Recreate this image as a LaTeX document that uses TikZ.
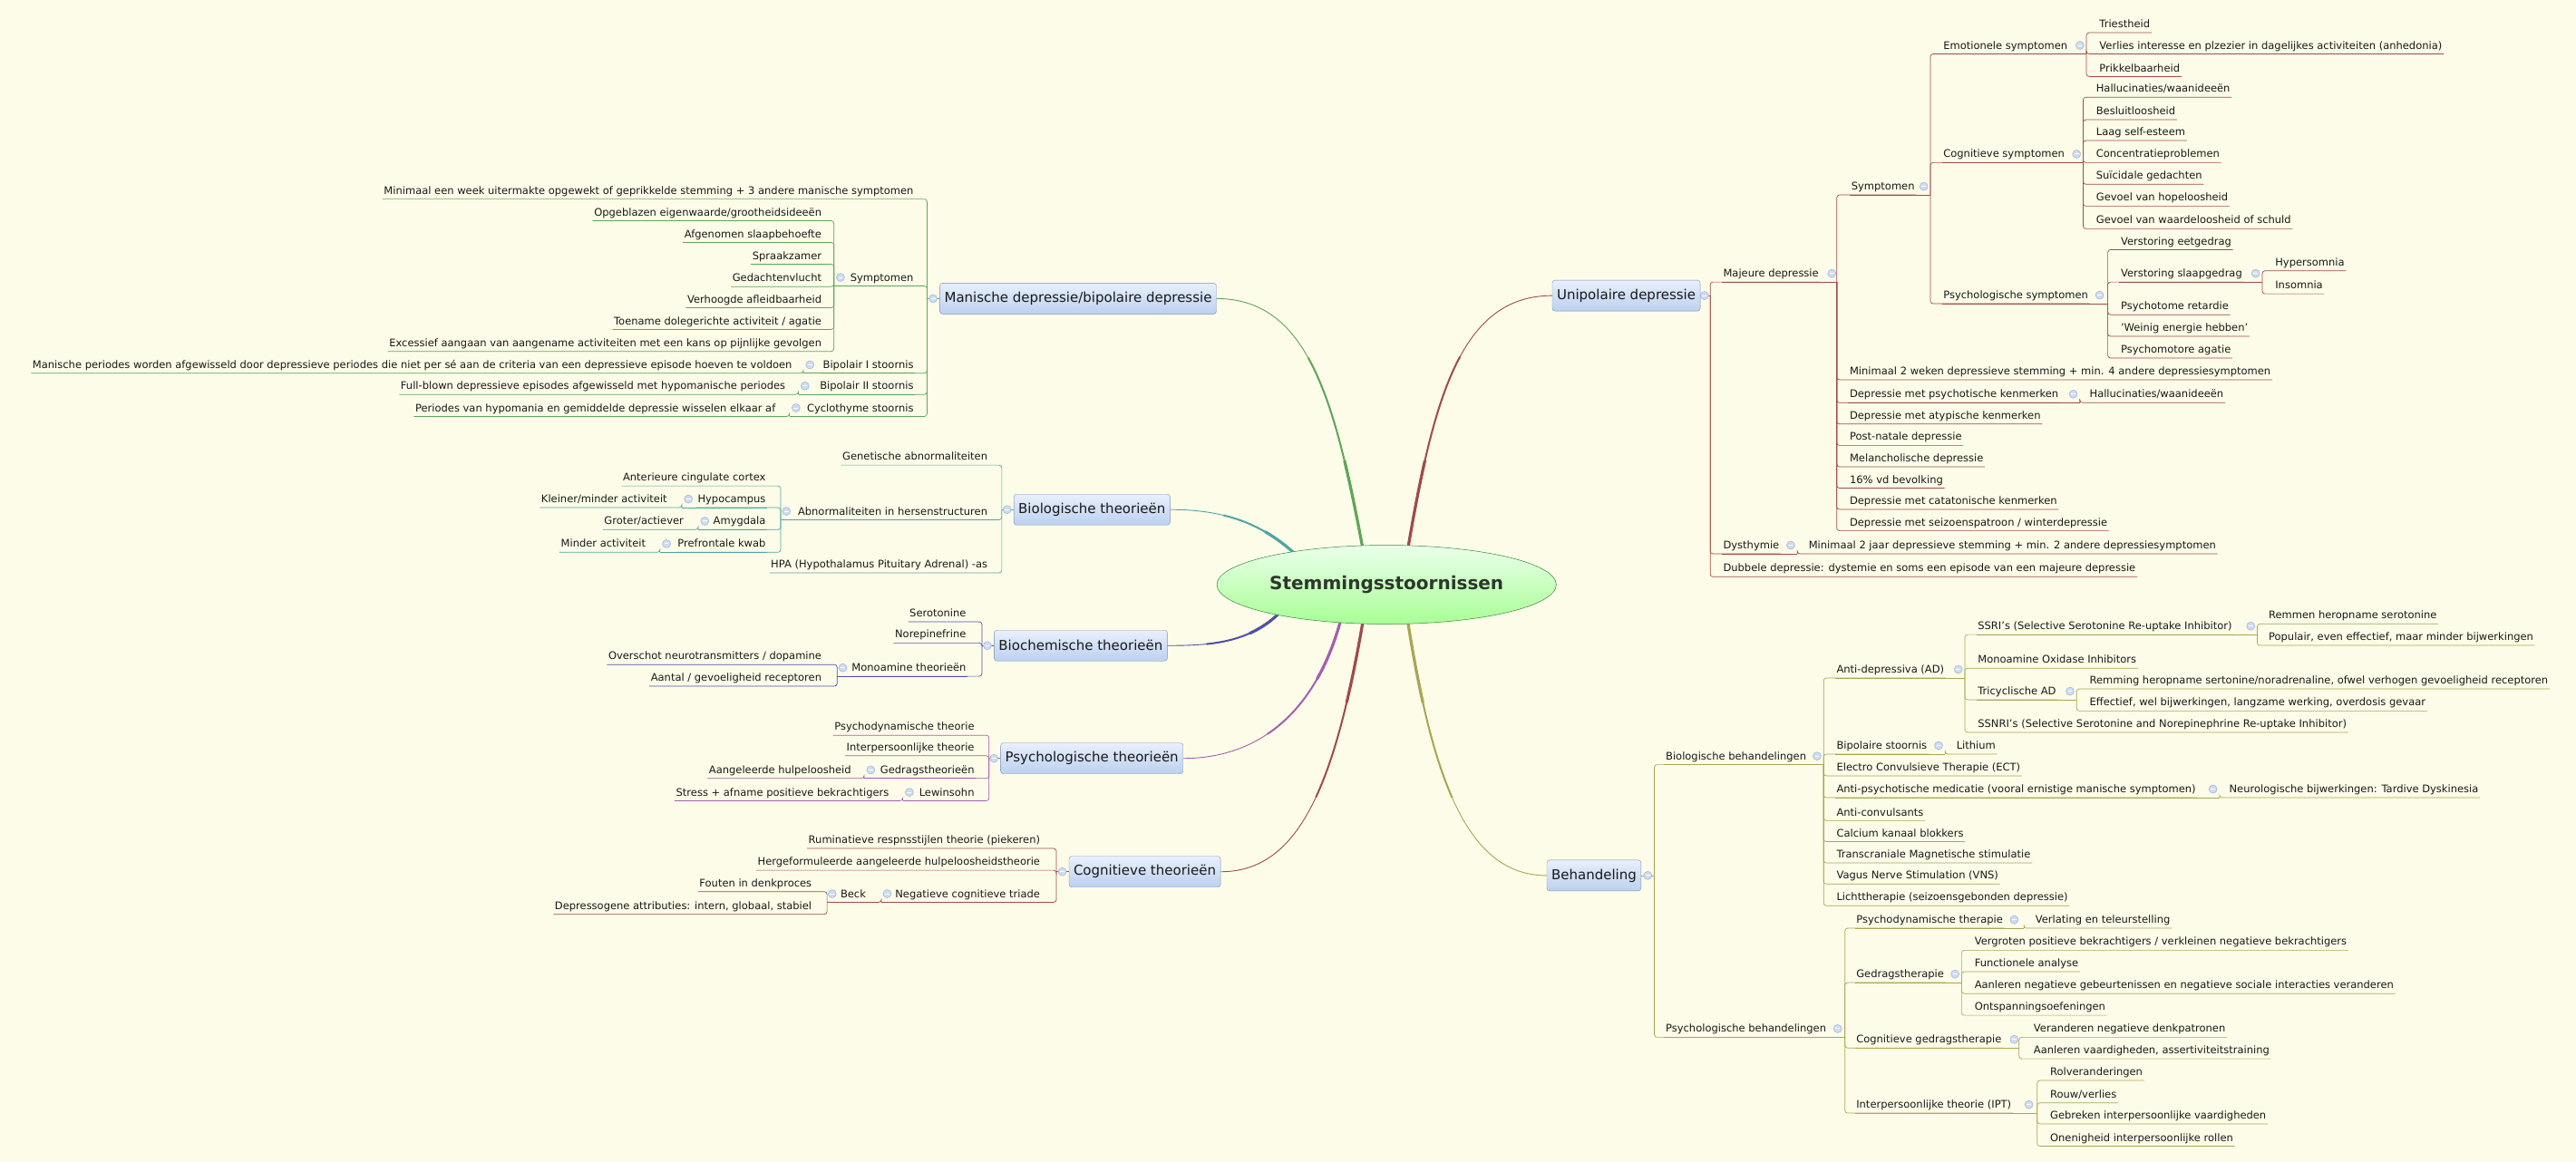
\documentclass[tikz,border=0pt]{standalone}
\usepackage{fontspec}
\setmainfont{DejaVu Sans}
\usetikzlibrary{calc,shapes.geometric}
\definecolor{bg}{RGB}{252,252,232}
\definecolor{txt}{RGB}{25,25,25}
\definecolor{cU}{RGB}{160,75,75}
\definecolor{cM}{RGB}{95,165,90}
\definecolor{cBi}{RGB}{80,165,160}
\definecolor{cBc}{RGB}{80,80,170}
\definecolor{cP}{RGB}{165,95,175}
\definecolor{cC}{RGB}{160,75,75}
\definecolor{cB}{RGB}{170,165,85}
\definecolor{bxt}{RGB}{232,240,252}
\definecolor{bxb}{RGB}{188,208,238}
\definecolor{bxd}{RGB}{125,145,185}
\definecolor{mkf}{RGB}{205,220,242}
\definecolor{mkd}{RGB}{160,180,215}
\newcount\mkc
\newcommand\nR[4]{\node[lf,anchor=south west] (#1) at (#2,{#3+5.2}) {#4};}
\newcommand\nL[4]{\node[lf,anchor=south east] (#1) at (#2,{#3+5.2}) {#4};}
\newcommand\mk[2]{\global\advance\mkc by 1 \node[mk] (mk\the\mkc) at (#1,#2) {};}
\newcommand\cR[4]{\coordinate (s#2) at (#3,0);
  \draw[#1,thin] (#2.south west) -- (s#2 |- #2.south);
  \foreach \c in {#4} {\draw[#1,thin,rounded corners=3pt] (s#2 |- #2.south) |- (\c.south east);}}
\newcommand\cL[4]{\coordinate (s#2) at (#3,0);
  \draw[#1,thin] (#2.south east) -- (s#2 |- #2.south);
  \foreach \c in {#4} {\draw[#1,thin,rounded corners=3pt] (s#2 |- #2.south) |- (\c.south west);}}
\newcommand\cRb[4]{\coordinate (s#2) at (#3,0);
  \draw[#1,thin] (#2.east) -- (s#2 |- #2.east);
  \foreach \c in {#4} {\draw[#1,thin,rounded corners=3pt] (s#2 |- #2.east) |- (\c.south east);}}
\newcommand\cLb[4]{\coordinate (s#2) at (#3,0);
  \draw[#1,thin] (#2.west) -- (s#2 |- #2.west);
  \foreach \c in {#4} {\draw[#1,thin,rounded corners=3pt] (s#2 |- #2.west) |- (\c.south west);}}
\newcommand\crv[5]{%
  \draw[#1,line width=0.9pt] (#2) .. controls #3 .. (#4);
  \draw[#1,line width=2pt,dash pattern=on #5 off 3000pt] (#2) .. controls #3 .. (#4);
  \draw[#1,line width=3.2pt,dash pattern=on {0.45*#5} off 3000pt] (#2) .. controls #3 .. (#4);}
\begin{document}
\begin{tikzpicture}[x=1.812pt,y=-1.812pt,
  lf/.style={font=\fontsize{11.5}{13}\selectfont,text=txt,inner xsep=1.5pt,inner ysep=5.2pt,text depth=0pt,text height=8.5pt},
  bx/.style={draw=bxd,rounded corners=3pt,top color=bxt,bottom color=bxb,font=\fontsize{15}{17}\selectfont,inner xsep=5pt,minimum height=34pt,text=txt},
  mk/.style={circle,inner sep=0pt,minimum size=9pt,fill=mkf,draw=mkd,line width=.5pt,
    path picture={\draw[white,line width=1pt] ([xshift=-2.4pt]path picture bounding box.center)--([xshift=2.4pt]path picture bounding box.center);}},
  thin/.style={line width=0.7pt}]
\fill[bg] (0,0) rectangle (1568,707.5);
\useasboundingbox (0,0) rectangle (1568,707.5);

% main boxes
\node[bx,anchor=east] (U) at (1035,180) {Unipolaire depressie};
\node[bx,anchor=east] (Beh) at (999,533.1) {Behandeling};
\node[bx,anchor=west] (M) at (572,181.8) {Manische depressie/bipolaire depressie};
\node[bx,anchor=west] (BiolT) at (617,310.3) {Biologische theorieën};
\node[bx,anchor=west] (BchT) at (605,393.1) {Biochemische theorieën};
\node[bx,anchor=west] (PsyT) at (609,461.8) {Psychologische theorieën};
\node[bx,anchor=west] (CogT) at (650.6,530.8) {Cognitieve theorieën};

% curves
\coordinate (e1) at (829.5,334);
\coordinate (e2) at (857,334);
\coordinate (e3) at (788,337);
\coordinate (e4) at (779,373);
\coordinate (e5) at (815.7,379);
\coordinate (e6) at (829.5,379);
\coordinate (e7) at (857,379);
\crv{cM}{e1}{(812,240) and (795,182)}{M.east}{220pt}
\crv{cU}{e2}{(873,240) and (890,180)}{U.west}{220pt}
\crv{cBi}{e3}{(765,316) and (740,310.3)}{BiolT.east}{90pt}
\crv{cBc}{e4}{(760,392) and (735,393.1)}{BchT.east}{90pt}
\crv{cP}{e5}{(800,435) and (765,461.8)}{PsyT.east}{150pt}
\crv{cC}{e6}{(812,480) and (790,530.8)}{CogT.east}{200pt}
\crv{cB}{e7}{(873,480) and (895,533.1)}{Beh.west}{200pt}

\node[ellipse,draw=black!45!green!60!gray,line width=0.5pt,top color=green!8!white,bottom color=green!35!white!90!lime,
  minimum width=348pt,minimum height=87pt,font=\fontsize{20}{24}\selectfont\bfseries,text={rgb,255:red,45;green,55;blue,45}] (root) at (844,356) {Stemmingsstoornissen};

% ---------- Unipolaire ----------
\nR{Maj}{1048}{166.5}{Majeure depressie}
\nR{Dys}{1048}{332}{Dysthymie}
\nR{Dub}{1048}{346}{Dubbele depressie: dystemie en soms een episode van een majeure depressie}
\nR{Sym}{1126}{113.5}{Symptomen}
\nR{Min2w}{1125}{226}{Minimaal 2 weken depressieve stemming + min. 4 andere depressiesymptomen}
\nR{Psyk}{1125}{240}{Depressie met psychotische kenmerken}
\nR{Atyp}{1125}{253}{Depressie met atypische kenmerken}
\nR{Post}{1125}{266}{Post-natale depressie}
\nR{Mel}{1125}{279}{Melancholische depressie}
\nR{Pct}{1125}{292}{16\% vd bevolking}
\nR{Cat}{1125}{305}{Depressie met catatonische kenmerken}
\nR{Seiz}{1125}{318}{Depressie met seizoenspatroon / winterdepressie}
\nR{Hal2}{1271}{240}{Hallucinaties/waanideeën}
\nR{Min2j}{1100}{332}{Minimaal 2 jaar depressieve stemming + min. 2 andere depressiesymptomen}
\nR{Emo}{1182}{27.6}{Emotionele symptomen}
\nR{CogS}{1182}{93.8}{Cognitieve symptomen}
\nR{PsyS}{1182}{179.7}{Psychologische symptomen}
\nR{Trie}{1277}{14.7}{Triestheid}
\nR{Verl}{1277}{27.6}{Verlies interesse en plzezier in dagelijkes activiteiten (anhedonia)}
\nR{Prik}{1277}{41.4}{Prikkelbaarheid}
\nR{Hal1}{1275}{54}{Hallucinaties/waanideeën}
\nR{Besl}{1275}{67.7}{Besluitloosheid}
\nR{Laag}{1275}{80.4}{Laag self-esteem}
\nR{Conc}{1275}{93.8}{Concentratieproblemen}
\nR{Suic}{1275}{107}{Suïcidale gedachten}
\nR{Hope}{1275}{120.3}{Gevoel van hopeloosheid}
\nR{Waar}{1275}{134.1}{Gevoel van waardeloosheid of schuld}
\nR{Eet}{1290}{146.8}{Verstoring eetgedrag}
\nR{Slaap}{1290}{166.5}{Verstoring slaapgedrag}
\nR{Ret}{1290}{186.4}{Psychotome retardie}
\nR{Ener}{1290}{199.6}{'Weinig energie hebben'}
\nR{Agat}{1290}{212.8}{Psychomotore agatie}
\nR{Hyp}{1384}{159.7}{Hypersomnia}
\nR{Ins}{1384}{173.7}{Insomnia}
\cRb{cU}{U}{1041}{Maj,Dys,Dub}
\cR{cU}{Maj}{1118}{Sym,Min2w,Psyk,Atyp,Post,Mel,Pct,Cat,Seiz}
\cR{cU}{Sym}{1175}{Emo,CogS,PsyS}
\cR{cU}{Emo}{1270}{Trie,Verl,Prik}
\cR{cU}{CogS}{1268}{Hal1,Besl,Laag,Conc,Suic,Hope,Waar}
\cR{cU}{PsyS}{1283}{Eet,Slaap,Ret,Ener,Agat}
\cR{cU}{Slaap}{1377}{Hyp,Ins}
\cR{cU}{Psyk}{1266}{Hal2}
\cR{cU}{Dys}{1094}{Min2j}
\mk{1037.5}{180}\mk{1115}{166.5}\mk{1171}{113.5}\mk{1266}{27.6}\mk{1264}{93.8}
\mk{1278}{179.7}\mk{1373}{166.5}\mk{1262}{240}\mk{1090}{332}

% ---------- Behandeling ----------
\nR{BioB}{1013}{460.4}{Biologische behandelingen}
\nR{PsyB}{1013}{626.4}{Psychologische behandelingen}
\nR{AD}{1117}{407.6}{Anti-depressiva (AD)}
\nR{Bip}{1117}{454}{Bipolaire stoornis}
\nR{ECT}{1117}{467.2}{Electro Convulsieve Therapie (ECT)}
\nR{AP}{1117}{480.5}{Anti-psychotische medicatie (vooral ernistige manische symptomen)}
\nR{Conv}{1117}{494.5}{Anti-convulsants}
\nR{Calc}{1117}{507.3}{Calcium kanaal blokkers}
\nR{TMS}{1117}{520.2}{Transcraniale Magnetische stimulatie}
\nR{VNS}{1117}{533.1}{Vagus Nerve Stimulation (VNS)}
\nR{Licht}{1117}{546.3}{Lichttherapie (seizoensgebonden depressie)}
\nR{SSRI}{1203}{381.2}{SSRI's (Selective Serotonine Re-uptake Inhibitor)}
\nR{MAO}{1203}{401.7}{Monoamine Oxidase Inhibitors}
\nR{Tri}{1203}{420.9}{Tricyclische AD}
\nR{SSNRI}{1203}{440.7}{SSNRI's (Selective Serotonine and Norepinephrine Re-uptake Inhibitor)}
\nR{Rem}{1380}{374.7}{Remmen heropname serotonine}
\nR{Pop}{1380}{387.8}{Populair, even effectief, maar minder bijwerkingen}
\nR{Remm}{1271}{414.3}{Remming heropname sertonine/noradrenaline, ofwel verhogen gevoeligheid receptoren}
\nR{Eff}{1271}{427.7}{Effectief, wel bijwerkingen, langzame werking, overdosis gevaar}
\nR{Lith}{1190}{454}{Lithium}
\nR{Neuro}{1356}{480.5}{Neurologische bijwerkingen: Tardive Dyskinesia}
\nR{Pdyn}{1129}{560}{Psychodynamische therapie}
\nR{Verlt}{1238}{560}{Verlating en teleurstelling}
\nR{Gedr}{1129}{593.1}{Gedragstherapie}
\nR{Vergr}{1201}{573.4}{Vergroten positieve bekrachtigers / verkleinen negatieve bekrachtigers}
\nR{Func}{1201}{586.5}{Functionele analyse}
\nR{Aanl}{1201}{599.8}{Aanleren negatieve gebeurtenissen en negatieve sociale interacties veranderen}
\nR{Ontsp}{1201}{613}{Ontspanningsoefeningen}
\nR{CGT}{1129}{632.9}{Cognitieve gedragstherapie}
\nR{Verand}{1237}{626.4}{Veranderen negatieve denkpatronen}
\nR{AanV}{1237}{639.5}{Aanleren vaardigheden, assertiviteitstraining}
\nR{IPT}{1129}{672.6}{Interpersoonlijke theorie (IPT)}
\nR{Rol}{1247}{652.7}{Rolveranderingen}
\nR{Rouw}{1247}{666.3}{Rouw/verlies}
\nR{Gebr}{1247}{679.2}{Gebreken interpersoonlijke vaardigheden}
\nR{Oneni}{1247}{692.7}{Onenigheid interpersoonlijke rollen}
\cRb{cB}{Beh}{1007}{BioB,PsyB}
\cR{cB}{BioB}{1110}{AD,Bip,ECT,AP,Conv,Calc,TMS,VNS,Licht}
\cR{cB}{AD}{1196}{SSRI,MAO,Tri,SSNRI}
\cR{cB}{SSRI}{1374}{Rem,Pop}
\cR{cB}{Tri}{1264}{Remm,Eff}
\cR{cB}{Bip}{1184}{Lith}
\cR{cB}{AP}{1351}{Neuro}
\cR{cB}{PsyB}{1123}{Pdyn,Gedr,CGT,IPT}
\cR{cB}{Pdyn}{1232}{Verlt}
\cR{cB}{Gedr}{1194}{Vergr,Func,Aanl,Ontsp}
\cR{cB}{CGT}{1229}{Verand,AanV}
\cR{cB}{IPT}{1240}{Rol,Rouw,Gebr,Oneni}
\mk{1003}{533.1}\mk{1106}{460.4}\mk{1192}{407.6}\mk{1370}{381.2}\mk{1260}{420.9}
\mk{1180}{454}\mk{1347}{480.5}\mk{1118.6}{626.4}\mk{1226}{560}\mk{1190}{593.1}
\mk{1226}{632.9}\mk{1235}{672.6}

% ---------- Manische ----------
\nL{MinW}{557}{116}{Minimaal een week uitermakte opgewekt of geprikkelde stemming + 3 andere manische symptomen}
\nL{SymL}{557}{168.9}{Symptomen}
\nL{BipI}{557}{222.1}{Bipolair I stoornis}
\nL{BipII}{557}{235}{Bipolair II stoornis}
\nL{Cyc}{557}{248.4}{Cyclothyme stoornis}
\nL{Opg}{501}{129.2}{Opgeblazen eigenwaarde/grootheidsideeën}
\nL{Afg}{501}{142.4}{Afgenomen slaapbehoefte}
\nL{Spr}{501}{155.7}{Spraakzamer}
\nL{Ged}{501}{169.3}{Gedachtenvlucht}
\nL{Verh}{501}{182.2}{Verhoogde afleidbaarheid}
\nL{Toe}{501}{195.4}{Toename dolegerichte activiteit / agatie}
\nL{Exc}{501}{208.8}{Excessief aangaan van aangename activiteiten met een kans op pijnlijke gevolgen}
\nL{ManP}{483}{222.1}{Manische periodes worden afgewisseld door depressieve periodes die niet per sé aan de criteria van een depressieve episode hoeven te voldoen}
\nL{Full}{479}{235}{Full-blown depressieve episodes afgewisseld met hypomanische periodes}
\nL{Per}{473}{248.4}{Periodes van hypomania en gemiddelde depressie wisselen elkaar af}
\cLb{cM}{M}{564.3}{MinW,SymL,BipI,BipII,Cyc}
\cL{cM}{SymL}{507.6}{Opg,Afg,Spr,Ged,Verh,Toe,Exc}
\cL{cM}{BipI}{489}{ManP}
\cL{cM}{BipII}{486}{Full}
\cL{cM}{Cyc}{480.5}{Per}
\mk{568}{181.8}\mk{511.6}{168.9}\mk{493}{222.1}\mk{490}{235}\mk{484.5}{248.4}

% ---------- Biologische ----------
\nL{Gen}{602}{278}{Genetische abnormaliteiten}
\nL{Abn}{602}{311.3}{Abnormaliteiten in hersenstructuren}
\nL{HPA}{602}{343.6}{HPA (Hypothalamus Pituitary Adrenal) -as}
\nL{Ant}{467}{290.7}{Anterieure cingulate cortex}
\nL{Hypo}{467}{303.9}{Hypocampus}
\nL{Amy}{467}{317.3}{Amygdala}
\nL{Pre}{467}{331.1}{Prefrontale kwab}
\nL{Kl}{407}{303.9}{Kleiner/minder activiteit}
\nL{Gr}{417}{317.3}{Groter/actiever}
\nL{Mi}{394}{331.1}{Minder activiteit}
\cLb{cBi}{BiolT}{609.8}{Gen,Abn,HPA}
\cL{cBi}{Abn}{475.2}{Ant,Hypo,Amy,Pre}
\cL{cBi}{Hypo}{415}{Kl}
\cL{cBi}{Amy}{425}{Gr}
\cL{cBi}{Pre}{401.7}{Mi}
\mk{613}{310.3}\mk{478.6}{311.3}\mk{419}{303.9}\mk{429}{317.3}\mk{405.7}{331.1}

% ---------- Biochemische ----------
\nL{Sero}{589}{373.4}{Serotonine}
\nL{Nore}{589}{386.3}{Norepinefrine}
\nL{Mono}{589}{406.6}{Monoamine theorieën}
\nL{Ovs}{501}{399.5}{Overschot neurotransmitters / dopamine}
\nL{Aant}{501}{412.6}{Aantal / gevoeligheid receptoren}
\cLb{cBc}{BchT}{597.7}{Sero,Nore,Mono}
\cL{cBc}{Mono}{509.6}{Ovs,Aant}
\mk{601}{393.1}\mk{513}{406.6}

% ---------- Psychologische theorieen ----------
\nL{Pdt}{594}{442.5}{Psychodynamische theorie}
\nL{Ipt}{594}{455}{Interpersoonlijke theorie}
\nL{Gdt}{594}{468.8}{Gedragstheorieën}
\nL{Lew}{594}{482.4}{Lewinsohn}
\nL{Aang}{519}{468.8}{Aangeleerde hulpeloosheid}
\nL{Str}{542}{482.4}{Stress + afname positieve bekrachtigers}
\cLb{cP}{PsyT}{602}{Pdt,Ipt,Gdt,Lew}
\cL{cP}{Gdt}{526}{Aang}
\cL{cP}{Lew}{549.5}{Str}
\mk{605}{461.8}\mk{530}{468.8}\mk{553.5}{482.4}

% ---------- Cognitieve ----------
\nL{Rum}{634}{511.4}{Ruminatieve respnsstijlen theorie (piekeren)}
\nL{Herg}{634}{524.7}{Hergeformuleerde aangeleerde hulpeloosheidstheorie}
\nL{Neg}{634}{544.2}{Negatieve cognitieve triade}
\nL{Beck}{528}{544.2}{Beck}
\nL{Fout}{495}{537.7}{Fouten in denkproces}
\nL{Depr}{495}{551.5}{Depressogene attributies: intern, globaal, stabiel}
\cLb{cC}{CogT}{643}{Rum,Herg,Neg}
\cL{cC}{Neg}{536.5}{Beck}
\cL{cC}{Beck}{503.4}{Fout,Depr}
\mk{646.6}{530.8}\mk{540}{544.2}\mk{506.5}{544.2}
\end{tikzpicture}
\end{document}
